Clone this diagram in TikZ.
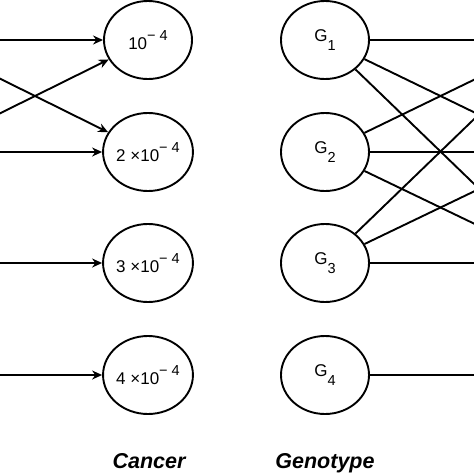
\documentclass[tikz,border=0pt]{standalone}
\usepackage{fontspec}
\setmainfont{Liberation Sans}
\usetikzlibrary{shapes.geometric,arrows.meta}
\tikzset{
  oval/.style={ellipse,draw,line width=1.9pt,minimum width=88pt,minimum height=78pt,inner sep=0pt,font=\fontsize{17}{17}\selectfont},
  conn/.style={line width=1.9pt},
  arr/.style={conn,-{Stealth[length=10pt,width=9pt]}},
  caption/.style={font=\fontsize{21.5}{21.5}\selectfont\bfseries\itshape,anchor=base}
}
\newcommand{\supm}{\raisebox{9.5pt}{\fontsize{14.5}{14.5}\selectfont − 4}}
\newcommand{\subg}[1]{\raisebox{-9pt}{\fontsize{14.5}{14.5}\selectfont #1}}
\begin{document}
\begin{tikzpicture}[x=1pt,y=-1pt]
\useasboundingbox (0,0) rectangle (474,474);
\begin{scope}
\clip (0,0) rectangle (474,474);
% off-canvas sources
\coordinate (s1) at (-78,40);
\coordinate (s2) at (-78,152);
\coordinate (s3) at (-78,263);
\coordinate (s4) at (-78,375);
% off-canvas targets
\coordinate (t1) at (556,40);
\coordinate (t2) at (556,152);
\coordinate (t3) at (556,263);
\coordinate (t4) at (556,375);
% cancer nodes
\node[oval] (c1) at (148,40) {10\supm};
\node[oval] (c2) at (148,152) {2 ×10\supm};
\node[oval] (c3) at (148,263) {3 ×10\supm};
\node[oval] (c4) at (148,375) {4 ×10\supm};
% genotype nodes
\node[oval] (g1) at (325,40) {G\subg{1}};
\node[oval] (g2) at (325,152) {G\subg{2}};
\node[oval] (g3) at (325,263) {G\subg{3}};
\node[oval] (g4) at (325,375) {G\subg{4}};
% arrows into cancer nodes
\draw[arr] (s1) -- (c1);
\draw[arr] (s2) -- (c1);
\draw[arr] (s1) -- (c2);
\draw[arr] (s2) -- (c2);
\draw[arr] (s3) -- (c3);
\draw[arr] (s4) -- (c4);
% lines out of genotype nodes
\draw[conn] (g1) -- (t1);
\draw[conn] (g1) -- (t2);
\draw[conn] (g1) -- (t3);
\draw[conn] (g2) -- (t1);
\draw[conn] (g2) -- (t2);
\draw[conn] (g2) -- (t3);
\draw[conn] (g3) -- (t1);
\draw[conn] (g3) -- (t2);
\draw[conn] (g3) -- (t3);
\draw[conn] (g4) -- (t4);
\end{scope}
\node[caption] (cap1) at (149,468) {Cancer};
\node[caption] (cap2) at (325,468) {Genotype};
\end{tikzpicture}
\end{document}
